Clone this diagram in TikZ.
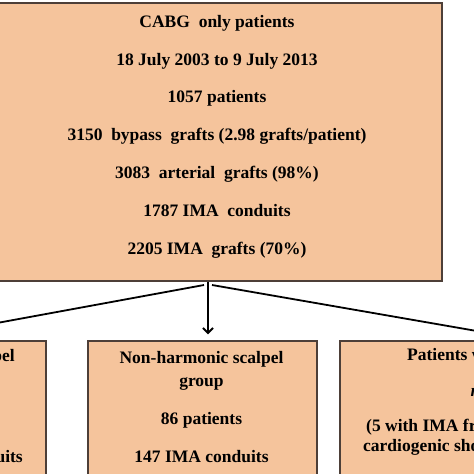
\documentclass[tikz,border=0pt]{standalone}
\usepackage{fontspec}
\setmainfont{Liberation Serif}
\usetikzlibrary{arrows.meta}
\definecolor{peach}{HTML}{F5C49C}
\definecolor{edgecol}{HTML}{4D3F38}
\begin{document}
\begin{tikzpicture}[x=1pt,y=-1pt,
  box/.style={draw=edgecol, line width=1.5pt, fill=peach, rectangle, inner sep=0pt},
  txt/.style={font=\fontsize{17.5}{37.8}\selectfont\bfseries, align=center, inner sep=0pt},
  frag/.style={font=\fontsize{17.5}{21}\selectfont\bfseries, inner sep=0pt},
  link/.style={line width=1.8pt, -{Straight Barb[length=5pt,width=10pt]}, shorten >=6pt}]
\useasboundingbox (0,0) rectangle (474,474);
% top box
\node[box, minimum width=468, minimum height=278] (top) at (208,142) {};
\node[txt] (toptext) at (217,136.5) {CABG~ only patients\\18 July 2003 to 9 July 2013\\1057 patients\\3150~ bypass~ grafts (2.98 grafts/patient)\\3083~ arterial~ grafts (98\%)\\1787 IMA~ conduits\\2205 IMA~ grafts (70\%)};
% bottom boxes
\node[box, minimum width=286, minimum height=190] (left) at (-97,436) {};
\node[box, minimum width=229, minimum height=190] (mid) at (202.5,436) {};
\node[box, minimum width=380, minimum height=190] (right) at (530,436) {};
% texts
\node[frag, anchor=east] (lefta) at (15,357) {pel};
\node[frag, anchor=east] (leftb) at (23,457) {uits};
\node[txt, font=\fontsize{17.5}{23}\selectfont\bfseries] (midtext) at (201.5,407.5) {Non-harmonic scalpel\\group\\[15pt]86 patients\\[15pt]147 IMA conduits};
\node[frag, anchor=west] (righta) at (407,355) {Patients with};
\node[frag, anchor=west, font=\fontsize{17.5}{21}\selectfont\bfseries\itshape] (rightb) at (470.5,392) {n};
\node[frag, anchor=west] (rightc) at (366,427) {(5 with IMA from};
\node[frag, anchor=west] (rightd) at (363,447) {cardiogenic shock};
% connectors
\coordinate (forkL) at (204,285);
\coordinate (forkR) at (212,285);
\draw[link] (top.south) -- (top.south |- mid.north);
\draw[link] (forkL) -- (left.north);
\draw[link] (forkR) -- (right.north);
\end{tikzpicture}
\end{document}
